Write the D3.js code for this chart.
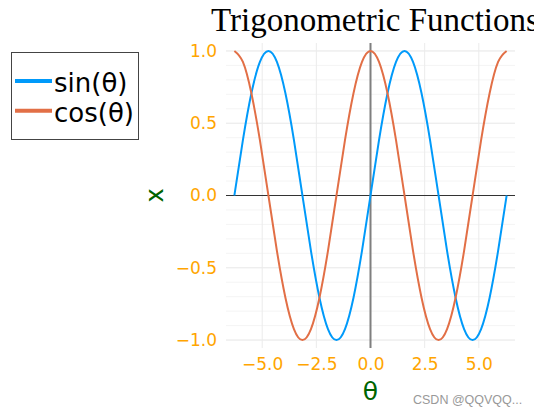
<!DOCTYPE html>
<html>
<head>
<meta charset="utf-8">
<script src="https://cdn.jsdelivr.net/npm/d3@7"></script>
<style>
  html, body { margin: 0; padding: 0; background: #fff; }
  svg { display: block; }
</style>
</head>
<body>
<div id="chart"></div>
<script>
// samples of theta, every pi/8 from -2pi to 2pi
const thetaValues = [-6.283, -5.890, -5.498, -5.105, -4.712, -4.320, -3.927, -3.534, -3.142,
    -2.749, -2.356, -1.963, -1.571, -1.178, -0.785, -0.393, 0, 0.393, 0.785, 1.178, 1.571,
    1.963, 2.356, 2.749, 3.142, 3.534, 3.927, 4.320, 4.712, 5.105, 5.498, 5.890, 6.283];
const sinValues = [0, 0.383, 0.707, 0.924, 1, 0.924, 0.707, 0.383, 0, -0.383, -0.707, -0.924,
    -1, -0.924, -0.707, -0.383, 0, 0.383, 0.707, 0.924, 1, 0.924, 0.707, 0.383, 0, -0.383,
    -0.707, -0.924, -1, -0.924, -0.707, -0.383, 0];
const cosValues = [1, 0.924, 0.707, 0.383, 0, -0.383, -0.707, -0.924, -1, -0.924, -0.707,
    -0.383, 0, 0.383, 0.707, 0.924, 1, 0.924, 0.707, 0.383, 0, -0.383, -0.707, -0.924, -1,
    -0.924, -0.707, -0.383, 0, 0.383, 0.707, 0.924, 1];
const seriesNames = ['sin(θ)', 'cos(θ)'];
const xTicks = [-5, -2.5, 0, 2.5, 5];
const yTicks = [-1, -0.5, 0, 0.5, 1];
const yMinorTicks = [-1, -0.9, -0.8, -0.7, -0.6, -0.5, -0.4, -0.3, -0.2, -0.1, 0,
    0.1, 0.2, 0.3, 0.4, 0.5, 0.6, 0.7, 0.8, 0.9, 1];

const width = 534;
const height = 416;

// plot area
const plot = { left: 226, right: 515, top: 43, bottom: 348 };

const colors = ['#009AFA', '#E26F46'];
const tickColor = '#FFA500';
const labelColor = '#006400';

const svg = d3.select('#chart')
    .append('svg')
    .attr('width', width)
    .attr('height', height);

const x = d3.scaleLinear()
    .domain([-6.67, 6.67])
    .range([plot.left, plot.right]);

const y = d3.scaleLinear()
    .domain([-1.055, 1.055])
    .range([plot.bottom, plot.top]);

// grid
const grid = svg.append('g');
grid.selectAll('line.minor')
    .data(yMinorTicks)
    .join('line')
    .attr('class', 'minor')
    .attr('x1', plot.left).attr('x2', plot.right)
    .attr('y1', d => y(d)).attr('y2', d => y(d))
    .attr('stroke', '#f4f4f4')
    .attr('stroke-width', 1);
grid.selectAll('line.hmajor')
    .data(yTicks)
    .join('line')
    .attr('class', 'hmajor')
    .attr('x1', plot.left).attr('x2', plot.right)
    .attr('y1', d => y(d)).attr('y2', d => y(d))
    .attr('stroke', '#ebebeb')
    .attr('stroke-width', 1);
grid.selectAll('line.vmajor')
    .data(xTicks)
    .join('line')
    .attr('class', 'vmajor')
    .attr('x1', d => x(d)).attr('x2', d => x(d))
    .attr('y1', plot.top).attr('y2', plot.bottom)
    .attr('stroke', '#ebebeb')
    .attr('stroke-width', 1);

// origin axes
svg.append('line')
    .attr('x1', plot.left).attr('x2', plot.right)
    .attr('y1', y(0)).attr('y2', y(0))
    .attr('stroke', '#333')
    .attr('stroke-width', 1.2);
svg.append('line')
    .attr('x1', x(0)).attr('x2', x(0))
    .attr('y1', plot.top).attr('y2', plot.bottom)
    .attr('stroke', '#7f7f7f')
    .attr('stroke-width', 2);

// tick labels
const bottomAxis = svg.append('g')
    .attr('transform', `translate(0,${plot.bottom})`)
    .call(d3.axisBottom(x)
        .tickValues(xTicks)
        .tickFormat(d3.format('.1f'))
        .tickSize(0)
        .tickPadding(10));
const leftAxis = svg.append('g')
    .attr('transform', `translate(${plot.left},0)`)
    .call(d3.axisLeft(y)
        .tickValues(yTicks)
        .tickFormat(d3.format('.1f'))
        .tickSize(0)
        .tickPadding(9));
[bottomAxis, leftAxis].forEach(a => {
    a.select('.domain').remove();
    a.selectAll('text')
        .attr('fill', tickColor)
        .style('font-family', '"DejaVu Sans", sans-serif')
        .style('font-size', '17px');
});

// curves
const series = [sinValues, cosValues];
const line = d3.line()
    .x((d, i) => x(thetaValues[i]))
    .y(d => y(d))
    .curve(d3.curveNatural);
svg.append('g')
    .selectAll('path')
    .data(series)
    .join('path')
    .attr('d', d => line(d))
    .attr('fill', 'none')
    .attr('stroke', (_, i) => colors[i])
    .attr('stroke-width', 2);

// title
svg.append('text')
    .attr('x', 211)
    .attr('y', 31)
    .attr('text-anchor', 'start')
    .style('font-family', '"Liberation Serif", "Times New Roman", serif')
    .style('font-size', '33px')
    .attr('fill', '#000')
    .text('Trigonometric Functions');

// axis labels
svg.append('text')
    .attr('transform', `translate(155,${y(0)}) rotate(-90)`)
    .attr('text-anchor', 'middle')
    .attr('dominant-baseline', 'central')
    .style('font-family', '"DejaVu Sans", sans-serif')
    .style('font-size', '24px')
    .attr('fill', labelColor)
    .text('x');
svg.append('text')
    .attr('x', x(0))
    .attr('y', 400)
    .attr('text-anchor', 'middle')
    .style('font-family', '"DejaVu Sans", sans-serif')
    .style('font-size', '25px')
    .attr('fill', labelColor)
    .text('θ');

// legend
const legend = svg.append('g');
legend.append('rect')
    .attr('x', 11.5).attr('y', 52.5)
    .attr('width', 127).attr('height', 87)
    .attr('fill', '#fff')
    .attr('stroke', '#444')
    .attr('stroke-width', 1);
const legendRows = legend.selectAll('g.row')
    .data(seriesNames)
    .join('g')
    .attr('class', 'row')
    .attr('transform', (_, i) => `translate(0,${81 + i * 29.7})`);
legendRows.append('line')
    .attr('x1', 15).attr('x2', 52)
    .attr('stroke', (_, i) => colors[i])
    .attr('stroke-width', 4);
legendRows.append('text')
    .attr('x', 54)
    .attr('y', 11)
    .style('font-family', '"DejaVu Sans", sans-serif')
    .style('font-size', '26px')
    .attr('fill', '#000')
    .text(d => d);

// watermark
svg.append('text')
    .attr('x', 413)
    .attr('y', 404)
    .style('font-family', '"Liberation Sans", Arial, sans-serif')
    .style('font-size', '12.5px')
    .attr('fill', '#999')
    .text('CSDN @QQVQQ...');
</script>
</body>
</html>
